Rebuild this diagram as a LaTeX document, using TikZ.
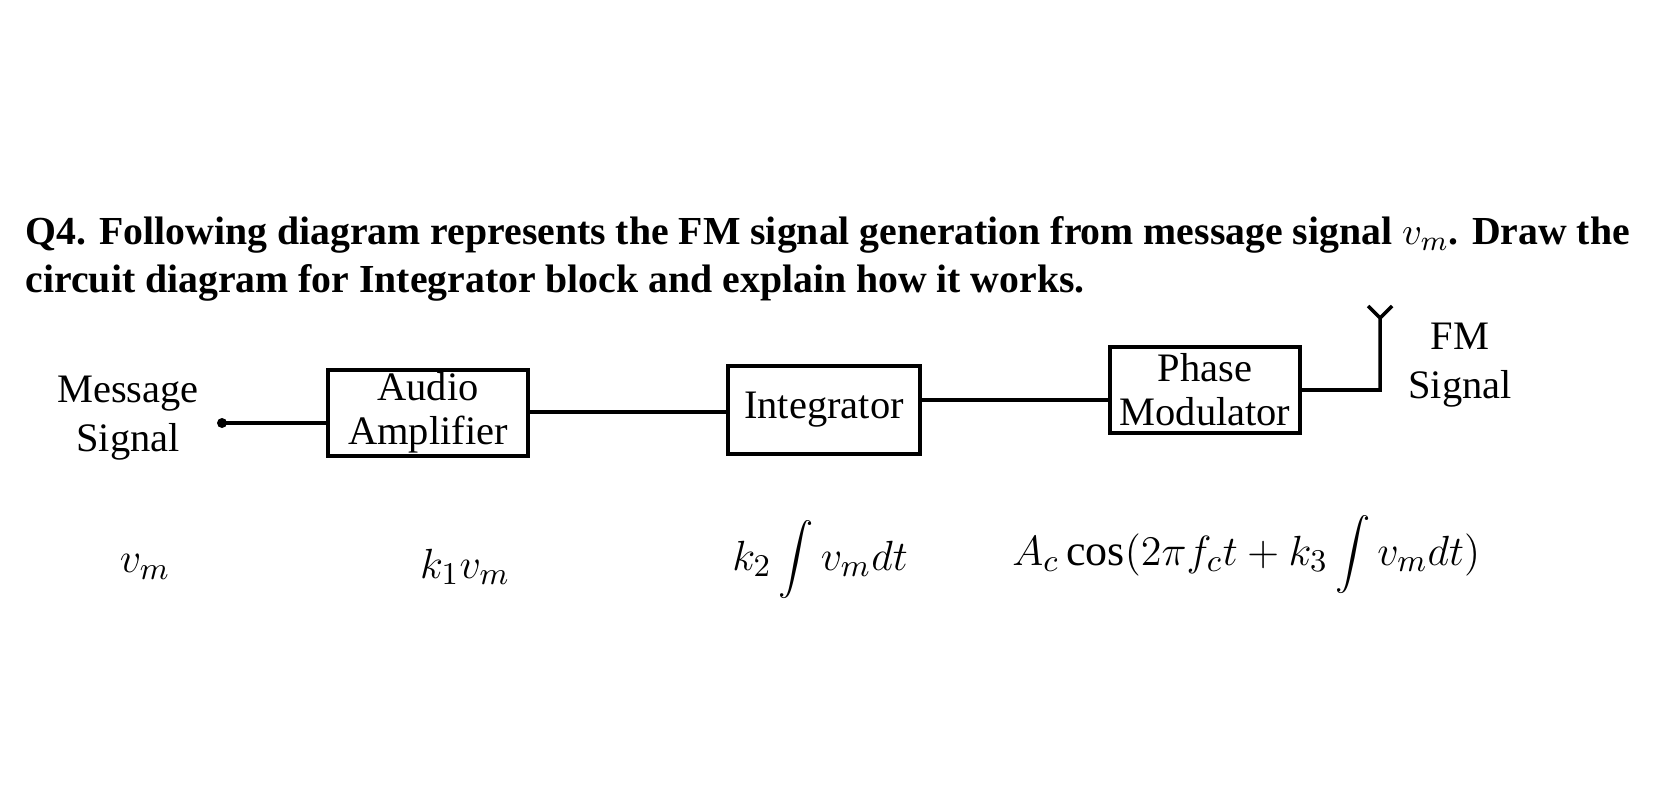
\documentclass[tikz,border=0pt]{standalone}
\usepackage{fontspec}
\setmainfont{Liberation Serif}
\begin{document}
\begin{tikzpicture}[x=0.01cm,y=-0.01cm,
  blk/.style={draw,line width=1.1pt,minimum width=2cm,minimum height=0.86cm,inner sep=0pt,font=\fontsize{11.5}{12.5}\selectfont,align=center},
  lbl/.style={font=\fontsize{11.5}{14}\selectfont,align=center},
  mth/.style={font=\fontsize{12.5}{15}\selectfont},
  ttl/.style={font=\bfseries\fontsize{11.3}{14}\selectfont,anchor=west,inner sep=0pt},
  wire/.style={line width=1pt}]
\useasboundingbox (0,0) rectangle (1671,785);
\node[ttl] (t1) at (25,235) {Q4. Following diagram represents the FM signal generation from message signal $v_m$. Draw the};
\node[ttl] (t2) at (25,283) {circuit diagram for Integrator block and explain how it works.};
\node[lbl] (ms) at (128,418) {Message\\Signal};
\fill (222,423) circle (5) coordinate (dot);
\node[blk] (aa) at (428,413) {Audio\\Amplifier};
\node[blk,minimum width=1.92cm,minimum height=0.88cm] (in) at (824,410) {Integrator};
\node[blk,minimum width=1.9cm] (pm) at (1205,390) {Phase\\Modulator};
\draw[wire] (dot) -- (aa.west |- dot);
\coordinate (w1) at (530,412);
\draw[wire] (w1) -- (in.west |- w1);
\coordinate (w2) at (920,400);
\draw[wire] (w2) -- (pm.west |- w2);
\coordinate (c1) at (1380,390);
\coordinate (c2) at (1380,318);
\draw[wire] (pm.east |- c1) -- (c1) -- (c2) -- ++(-12,-12);
\draw[wire] (c2) -- ++(12,-12);
\node[lbl] (fm) at (1460,365) {FM\\Signal};
\node[mth] (m1) at (145,567) {$v_m$};
\node[mth] (m2) at (465,567) {$k_1v_m$};
\node[mth] (m3) at (820,560) {$k_2\displaystyle\int v_m dt$};
\node[mth,anchor=west] (m4) at (1000,555) {$A_c\cos(2\pi f_c t + k_3\displaystyle\int v_m dt)$};
\end{tikzpicture}
\end{document}
